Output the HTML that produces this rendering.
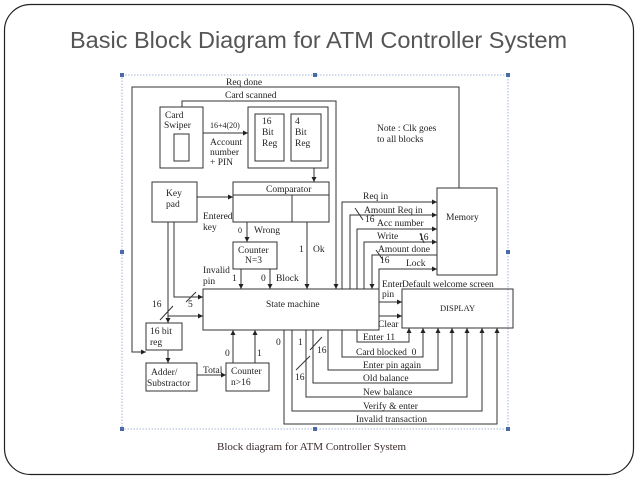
<!DOCTYPE html>
<html><head><meta charset="utf-8"><style>
html,body{margin:0;padding:0;background:#fff;}
svg{display:block;}
.t{font-family:"Liberation Serif",serif;font-size:9.5px;fill:#222;}
</style></head><body>
<svg width="638" height="479" viewBox="0 0 638 479" xmlns="http://www.w3.org/2000/svg">
<defs><marker id="a" markerWidth="6" markerHeight="6" refX="5" refY="3" orient="auto" markerUnits="userSpaceOnUse"><path d="M0,0.5 L5,3 L0,5.5z" fill="#222"/></marker></defs>
<rect x="4.5" y="4.5" width="629" height="470" rx="26" fill="#fff" stroke="#222" stroke-width="1.2"/>
<text x="70" y="48" font-family="Liberation Sans,sans-serif" font-size="23.5" fill="#555">Basic Block Diagram for ATM Controller System</text>
<!-- dotted frame -->
<rect x="122" y="75" width="386" height="354" fill="none" stroke="#8aa0c8" stroke-width="0.8" stroke-dasharray="1.5,1.5"/>
<g fill="#4a6aa8"><rect x="120" y="73" width="4" height="4"/><rect x="313" y="73" width="4" height="4"/><rect x="506" y="73" width="4" height="4"/><rect x="120" y="250" width="4" height="4"/><rect x="506" y="250" width="4" height="4"/><rect x="120" y="427" width="4" height="4"/><rect x="313" y="427" width="4" height="4"/><rect x="506" y="427" width="4" height="4"/></g>
<g stroke="#333" stroke-width="1" fill="none">
<rect x="160" y="107" width="43" height="61"/><rect x="174" y="134" width="15" height="27"/>
<rect x="248" y="107" width="80" height="61"/><rect x="255" y="114" width="29" height="47"/><rect x="291" y="114" width="30" height="47"/>
<rect x="152" y="182" width="45" height="40"/>
<rect x="233" y="182" width="96" height="40"/><line x1="233" y1="195" x2="329" y2="195"/><line x1="292" y1="195" x2="292" y2="222"/>
<rect x="233" y="242" width="44" height="27"/>
<rect x="203" y="289" width="176" height="41"/>
<rect x="146" y="323" width="36" height="27"/>
<rect x="146" y="363" width="51" height="28"/>
<rect x="226" y="363" width="43" height="28"/>
<rect x="437" y="188" width="60" height="87"/>
<rect x="402" y="289" width="111" height="39"/>
<polyline points="459,188 459,87 132,87 132,352 146,352" marker-end="url(#a)"/>
<polyline points="182,107 182,101 336,101 336,289" marker-end="url(#a)"/>
<line x1="203" y1="133" x2="248" y2="133" marker-end="url(#a)"/>
<line x1="314" y1="168" x2="314" y2="182" marker-end="url(#a)"/>
<line x1="197" y1="197" x2="233" y2="197" marker-end="url(#a)"/>
<line x1="247" y1="222" x2="247" y2="242" marker-end="url(#a)"/>
<line x1="307" y1="222" x2="307" y2="289" marker-end="url(#a)"/>
<line x1="241" y1="269" x2="241" y2="289" marker-end="url(#a)"/>
<line x1="270" y1="269" x2="270" y2="289" marker-end="url(#a)"/>
<polyline points="174,222 174,297 203,297" marker-end="url(#a)"/>
<line x1="168" y1="222" x2="168" y2="323" marker-end="url(#a)"/>
<line x1="168" y1="316" x2="203" y2="316" marker-end="url(#a)"/>
<line x1="160" y1="320" x2="173" y2="306"/><line x1="186" y1="302" x2="196" y2="292"/>
<line x1="168" y1="350" x2="168" y2="363" marker-end="url(#a)"/>
<line x1="197" y1="375" x2="226" y2="375" marker-end="url(#a)"/>
<line x1="233" y1="363" x2="233" y2="330" marker-end="url(#a)"/>
<line x1="255" y1="363" x2="255" y2="330" marker-end="url(#a)"/>
<polyline points="342,289 342,202 437,202" marker-end="url(#a)"/>
<polyline points="350,289 350,215 437,215" marker-end="url(#a)"/>
<polyline points="357,289 357,229 437,229" marker-end="url(#a)"/>
<polyline points="364,289 364,242 437,242" marker-end="url(#a)"/>
<polyline points="437,255 372,255 372,289" marker-end="url(#a)"/>
<polyline points="379,289 379,269 437,269" marker-end="url(#a)"/>
<line x1="355" y1="208" x2="363" y2="220"/><line x1="420" y1="233" x2="424" y2="243"/><line x1="376" y1="250" x2="383" y2="260"/>
<line x1="379" y1="302" x2="402" y2="302" marker-end="url(#a)"/>
<line x1="379" y1="316" x2="402" y2="316" marker-end="url(#a)"/>
<polyline points="357,330 357,342 409,342 409,328" marker-end="url(#a)"/>
<polyline points="342,330 342,357 423,357 423,328" marker-end="url(#a)"/>
<polyline points="328,330 328,370 438,370 438,328" marker-end="url(#a)"/>
<polyline points="313,330 313,383 452,383 452,328" marker-end="url(#a)"/>
<polyline points="306,330 306,397 467,397 467,328" marker-end="url(#a)"/>
<polyline points="292,330 292,411 482,411 482,328" marker-end="url(#a)"/>
<polyline points="284,330 284,424 497,424 497,328" marker-end="url(#a)"/>
<line x1="310" y1="350" x2="322" y2="337"/><line x1="296" y1="370" x2="310" y2="356"/>
</g>
<g class="t">
<text x="226" y="85">Req done</text><text x="225" y="98">Card scanned</text>
<text x="165" y="118">Card</text><text x="164" y="128">Swiper</text>
<text x="210" y="128" font-size="8">16+4(20)</text>
<text x="210" y="145">Account</text><text x="210" y="155">number</text><text x="210" y="165">+ PIN</text>
<text x="262" y="124">16</text><text x="262" y="135">Bit</text><text x="262" y="146">Reg</text>
<text x="295" y="124">4</text><text x="295" y="135">Bit</text><text x="295" y="146">Reg</text>
<text x="377" y="131">Note : Clk goes</text><text x="377" y="142">to all blocks</text>
<text x="166" y="196">Key</text><text x="166" y="207">pad</text>
<text x="266" y="192">Comparator</text>
<text x="203" y="219">Entered</text><text x="203" y="230">key</text>
<text x="238" y="233" font-size="8">0</text><text x="254" y="233">Wrong</text>
<text x="238" y="253">Counter</text><text x="245" y="263">N=3</text>
<text x="299" y="252">1</text><text x="313" y="252">Ok</text>
<text x="203" y="273">Invalid</text><text x="203" y="284">pin</text>
<text x="232" y="281">1</text><text x="261" y="281">0</text><text x="276" y="281">Block</text>
<text x="266" y="307">State machine</text>
<text x="152" y="307">16</text><text x="188" y="307">5</text>
<text x="150" y="334">16 bit</text><text x="150" y="345">reg</text>
<text x="151" y="375">Adder/</text><text x="147" y="386">Substractor</text>
<text x="203" y="373">Total</text>
<text x="231" y="374">Counter</text><text x="231" y="385">n&gt;16</text>
<text x="225" y="356">0</text><text x="257" y="356">1</text>
<text x="276" y="345">0</text><text x="298" y="345">1</text><text x="317" y="353">16</text><text x="295" y="380">16</text>
<text x="363" y="199">Req in</text><text x="364" y="213">Amount Req in</text>
<text x="365" y="222">16</text><text x="377" y="226">Acc number</text><text x="419" y="240">16</text>
<text x="377" y="239">Write</text><text x="378" y="252">Amount done</text>
<text x="380" y="263">16</text><text x="406" y="266">Lock</text>
<text x="446" y="220">Memory</text>
<text x="382" y="287">Enter</text><text x="382" y="297">pin</text>
<text x="402" y="287">Default welcome screen</text>
<text x="440" y="311" font-size="8.5">DISPLAY</text>
<text x="378" y="327">Clear</text>
<text x="363" y="340">Enter 11</text>
<text x="356" y="355">Card blocked&#160; 0</text>
<text x="363" y="368">Enter pin again</text>
<text x="363" y="381">Old balance</text>
<text x="363" y="395">New balance</text>
<text x="363" y="409">Verify &amp; enter</text>
<text x="356" y="422">Invalid transaction</text>
</g>
<text x="217" y="450" font-family="Liberation Serif,serif" font-size="11" fill="#3a2a2a">Block diagram for ATM Controller System</text>
</svg>
</body></html>
